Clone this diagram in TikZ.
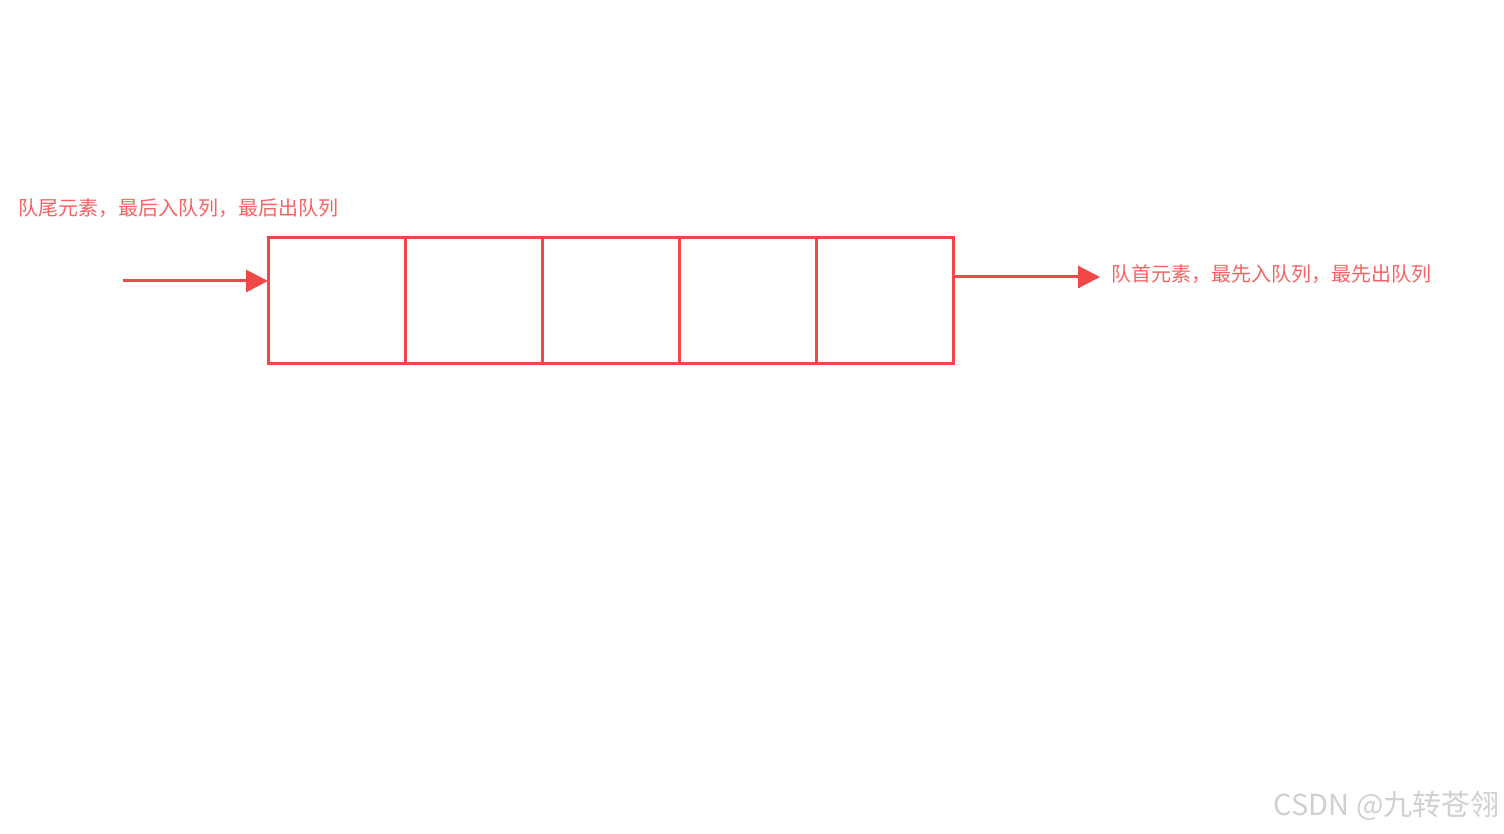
\documentclass[tikz,border=0pt]{standalone}
\usepackage{fontspec}
\setmainfont{Noto Sans CJK SC}
\usepackage{xcolor}
\usepackage{tikz}
\usetikzlibrary{arrows.meta,positioning}

\definecolor{qred}{RGB}{240,72,72}
\definecolor{qtext}{RGB}{246,98,98}
\definecolor{wmark}{RGB}{208,208,208}

\begin{document}
\begin{tikzpicture}[x=1pt,y=-1pt]
\tikzset{cell/.style={draw=qred,line width=3pt,minimum width=137pt,
    minimum height=125pt,inner sep=0pt,outer sep=0pt}}
\tikzset{note/.style={text=qtext,anchor=west,inner sep=0pt,
    font=\fontsize{20}{24}\selectfont}}
\useasboundingbox (0,0) rectangle (1504,834);
\begin{scope}[>={Triangle[length=22pt,width=22pt]}]
    % the five cells of the queue
    \node[cell] (cellA) at (336.5,300.5) {};
    \node[cell,right=0pt of cellA] (cellB) {};
    \node[cell,right=0pt of cellB] (cellC) {};
    \node[cell,right=0pt of cellC] (cellD) {};
    \node[cell,right=0pt of cellD] (cellE) {};

    % tail side
    \node[note] (tailText) at (18,208) {队尾元素，最后入队列，最后出队列};
    \coordinate (tailIn) at (123,281);
    \draw[qred,line width=3pt,->] (tailIn) -- (tailIn -| cellA.west);

    % head side
    \coordinate (headOut) at (1100,277);
    \draw[qred,line width=3pt,->] (cellE.east |- headOut) -- (headOut);
    \node[note] (headText) at (1111,274) {队首元素，最先入队列，最先出队列};

    \node[text=wmark,anchor=east,inner sep=0pt,
        font=\fontsize{29}{33}\selectfont] (mark) at (1500,806) {CSDN @九转苍翎};
\end{scope}
\end{tikzpicture}
\end{document}
